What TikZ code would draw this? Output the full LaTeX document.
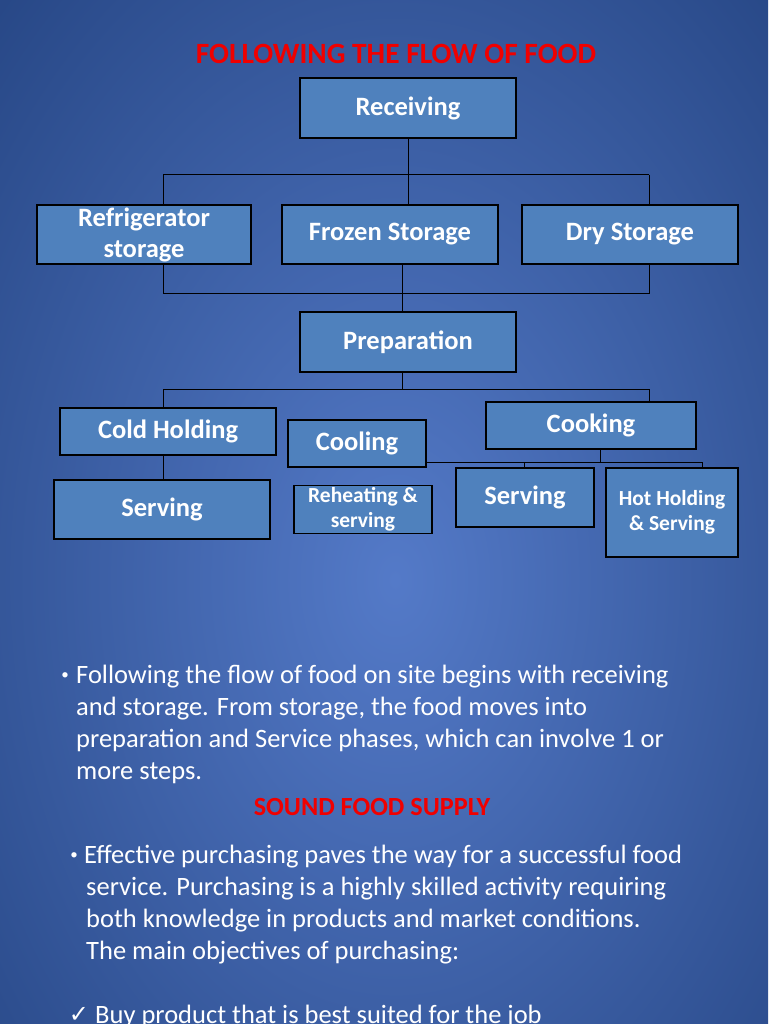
\documentclass[tikz,border=0pt]{standalone}
\usepackage{fontspec}
\setmainfont{Carlito}
\newfontfamily\symfont{DejaVu Sans}
\usepackage{tikz}
\usetikzlibrary{positioning, calc}
\definecolor{bgdark}{RGB}{8,36,88}
\definecolor{bglight}{RGB}{84,122,200}
\definecolor{boxblue}{RGB}{79,129,189}
\definecolor{Red}{RGB}{240,0,0}
\tikzstyle{stage}=[%
      rectangle, draw=black, line width=1.6pt, fill=boxblue, text=white,
      font=\fontsize{26.5}{31}\selectfont\bfseries, align=center, inner sep=2pt
]
\tikzstyle{small}=[%
      font=\fontsize{21.5}{25}\selectfont\bfseries
]
\tikzstyle{link}=[draw=black, line width=1pt]
\tikzstyle{heading}=[%
      text=Red, font=\bfseries, anchor=base, inner sep=0pt
]
\tikzstyle{body}=[%
      text=white, font=\fontsize{26.5}{32}\selectfont, align=left, anchor=base west, inner sep=0pt
]
\tikzstyle{dot}=[%
      text=white, font=\fontsize{15}{15}\selectfont, anchor=base, inner sep=0pt
]

\begin{document}
\begin{tikzpicture}[x=1pt, y=-1pt]
    \useasboundingbox (0,0) rectangle (768,1024);
    \clip (0,0) rectangle (768,1024);
    % background
    \fill[bgdark] (0,0) rectangle (768,1024);
    \shade[inner color=bglight, outer color=bgdark] (395,580) ellipse [x radius=960, y radius=1400];

    \node[heading, font=\fontsize{29.4}{32}\selectfont\bfseries] (title) at (396,64) {FOLLOWING THE FLOW OF FOOD};

    % storage
    \node[stage, minimum width=216, minimum height=60] (recv)   at (408,108)   {Receiving};
    \node[stage, minimum width=214, minimum height=59] (fridge) at (144,234.5) {Refrigerator\\storage};
    \node[stage, minimum width=216, minimum height=59] (frozen) at (390,234.5) {Frozen Storage};
    \node[stage, minimum width=216, minimum height=59] (dry)    at (630,234.5) {Dry Storage};
    \node[stage, minimum width=216, minimum height=60] (prep)   at (408,342)   {Preparation};

    % holding
    \node[stage, minimum width=216, minimum height=47] (cold)    at (168,431.5) {Cold Holding};
    \node[stage, minimum width=138, minimum height=47] (cooling) at (357,443.5) {Cooling};
    \node[stage, minimum width=210, minimum height=47] (cooking) at (591,425.5) {Cooking};

    % service
    \node[stage, minimum width=216, minimum height=59] (servecold) at (162,509.5) {Serving};
    \node[stage, small, minimum width=138, minimum height=47] (reheat) at (363,509.5) {Reheating \&\\serving};
    \node[stage, minimum width=138, minimum height=59] (servehot) at (525,497.5) {Serving};
    \node[stage, small, minimum width=132, minimum height=89] (hothold) at (672,512.5) {Hot Holding\\\& Serving};

    % junctions
    \coordinate (j1l) at (163,175);  \coordinate (j1r) at (649,175);
    \coordinate (j2l) at (163,293);  \coordinate (j2m) at (402,293);  \coordinate (j2r) at (649,293);
    \coordinate (j3l) at (163,389);  \coordinate (j3m) at (402,389);  \coordinate (j3r) at (649,389);
    \coordinate (j4)  at (600,462);  \coordinate (j4a) at (524,462);  \coordinate (j4b) at (702,462);

    \path[link] (recv.south) -- (recv.south |- frozen.north)
          (j1l) -- (j1r)
          (j1l) -- (j1l |- fridge.north)
          (j1r) -- (j1r |- dry.north)
          (j2l |- fridge.south) -- (j2l) -- (j2r) -- (j2r |- dry.south)
          (j2m |- frozen.south) -- (j2m |- prep.north)
          (j3m |- prep.south) -- (j3m)
          (j3l) -- (j3r)
          (j3l) -- (j3l |- cold.north)
          (j3r) -- (j3r |- cooking.north)
          (cold.south -| j3l) -- (servecold.north -| j3l)
          (j4 |- cooking.south) -- (j4)
          (cooling.east |- j4) -- (j4b)
          (j4a) -- (j4a |- servehot.north)
          (j4b) -- (j4b |- hothold.north)
    ;

    % text
    \node[dot] (bul1) at (65,679) {\textbullet};
    \node[body] (para1) at (76,779) {Following the flow of food on site begins with receiving\\
      and storage. From storage, the food moves into\\
      preparation and Service phases, which can involve 1 or\\
      more steps.};
    \node[heading, font=\fontsize{26.2}{30}\selectfont\bfseries] (supply) at (372,815) {SOUND FOOD SUPPLY};
    \node[dot] (bul2) at (74,859) {\textbullet};
    \node[body] (para2) at (84,959) {Effective purchasing paves the way for a successful food\\
      \hspace{2pt}service. Purchasing is a highly skilled activity requiring\\
      \hspace{2pt}both knowledge in products and market conditions.\\
      \hspace{2pt}The main objectives of purchasing:};
    \node[text=white, font=\symfont\fontsize{24}{24}\selectfont, anchor=base] (tick) at (79,1022) {✓};
    \node[body] (goal1) at (95,1023) {Buy product that is best suited for the job};
\end{tikzpicture}
\end{document}
